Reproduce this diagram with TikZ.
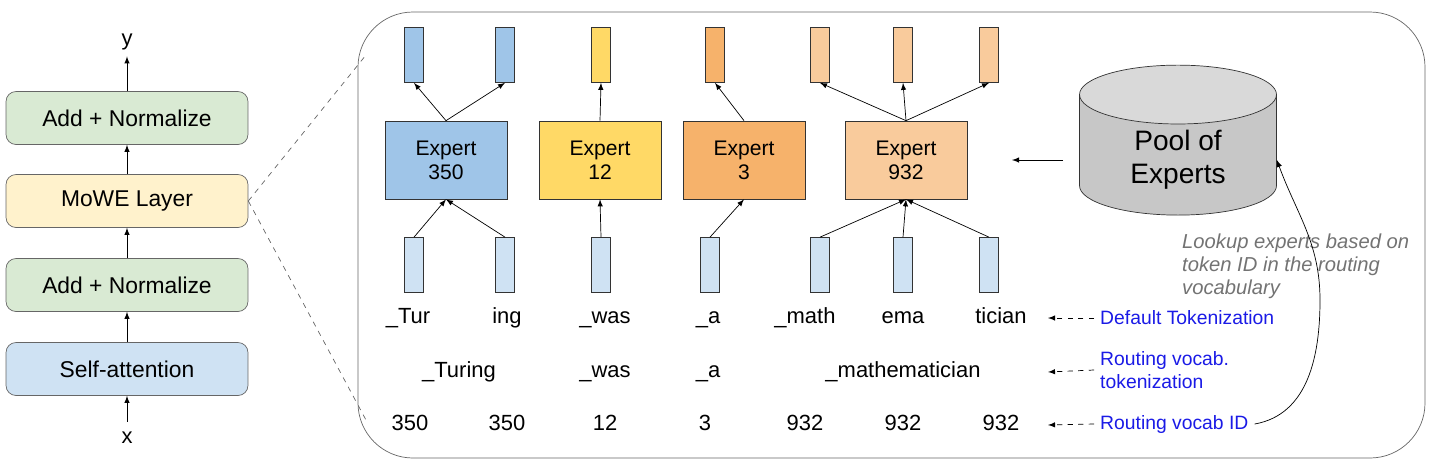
\documentclass[tikz,border=0pt]{standalone}
\usepackage{fontspec}
\setmainfont{Liberation Sans}
\usetikzlibrary{shapes.geometric,positioning}
\definecolor{cBlue}{HTML}{9FC5E8}
\definecolor{cLBlue}{HTML}{CFE2F3}
\definecolor{cYel}{HTML}{FFD966}
\definecolor{cOra}{HTML}{F6B26B}
\definecolor{cLOra}{HTML}{F9CB9C}
\definecolor{cGreen}{HTML}{D9EAD3}
\definecolor{cCream}{HTML}{FFF2CC}
\definecolor{cLink}{HTML}{1A1AE6}
\tikzset{
  layer/.style = {draw=black!60, rounded corners=0.2cm, minimum width=4.84cm, minimum height=1.06cm, font=\fontsize{13}{15}\selectfont},
  expert/.style = {draw=black!80, fill=#1, minimum width=2.44cm, minimum height=1.56cm, align=center, font=\fontsize{12}{13.5}\selectfont},
  vec/.style = {draw=black!80, fill=#1, minimum width=0.38cm, minimum height=1.1cm, inner sep=0},
  tok/.style = {font=\fontsize{12.5}{14}\selectfont, text height=1.7ex, text depth=0.5ex},
  note/.style = {font=\fontsize{11}{13}\selectfont, text=cLink, align=left, anchor=west},
  arr/.style = {-{latex}, black}
}
\begin{document}
\begin{tikzpicture}[x=0.02cm, y=-0.02cm]
\useasboundingbox (0,0) rectangle (1436,471);

% left stack
\node[layer, fill=cLBlue] (sa) at (127,369) {Self-attention};
\node[layer, fill=cGreen] (an1) at (127,285) {Add + Normalize};
\node[layer, fill=cCream] (mowe) at (127,201) {MoWE Layer};
\node[layer, fill=cGreen] (an2) at (127,118) {Add + Normalize};
\node[tok] (x) at (127,438) {x};
\node[tok] (y) at (127,40) {y};
\draw[arr] (x) -- (sa);
\draw[arr] (sa) -- (an1);
\draw[arr] (an1) -- (mowe);
\draw[arr] (mowe) -- (an2);
\draw[arr] (an2) -- (y);

% zoomed panel
\draw[black!60, rounded corners=1.1cm] (358,12) rectangle (1425,458);
\coordinate (pt) at (366,55);
\coordinate (pb) at (366,420);
\draw[dashed, black!60] (mowe.east) -- (pt);
\draw[dashed, black!60] (mowe.east) -- (pb);

% experts
\node[expert=cBlue] (e350) at (446,160) {Expert\\350};
\node[expert=cYel] (e12) at (600,160) {Expert\\12};
\node[expert=cOra] (e3) at (744,160) {Expert\\3};
\node[expert=cLOra] (e932) at (906,160) {Expert\\932};

% output vectors
\node[vec=cBlue] (o1) at (414,55) {};
\node[vec=cBlue] (o2) at (505,55) {};
\node[vec=cYel] (o3) at (601,55) {};
\node[vec=cOra] (o4) at (715,55) {};
\node[vec=cLOra] (o5) at (820,55) {};
\node[vec=cLOra] (o6) at (903,55) {};
\node[vec=cLOra] (o7) at (989,55) {};

% input vectors
\foreach \n/\x in {i1/414,i2/505,i3/601,i4/710,i5/820,i6/903,i7/989}
  \node[vec=cLBlue] (\n) at (\x,265) {};

\draw[arr] (e350.north) -- (o1.south);
\draw[arr] (e350.north) -- (o2.south);
\draw[arr] (e12.north) -- (o3.south);
\draw[arr] (e3.north) -- (o4.south);
\draw[arr] (e932.north) -- (o5.south);
\draw[arr] (e932.north) -- (o6.south);
\draw[arr] (e932.north) -- (o7.south);
\draw[arr] (i1.north) -- (e350.south);
\draw[arr] (i2.north) -- (e350.south);
\draw[arr] (i3.north) -- (e12.south);
\draw[arr] (i4.north) -- (e3.south);
\draw[arr] (i5.north) -- (e932.south);
\draw[arr] (i6.north) -- (e932.south);
\draw[arr] (i7.north) -- (e932.south);

% token rows
\foreach \t/\x in {\_Tur/408,ing/507,\_was/605,\_a/708,\_math/805,ema/903,tician/1001}
  \node[tok] at (\x,318) {\t};
\foreach \t/\x in {\_Turing/459,\_was/605,\_a/708,\_mathematician/903}
  \node[tok] at (\x,372) {\t};
\foreach \t/\x in {350/410,350/507,12/605,3/705,932/805,932/903,932/1001}
  \node[tok] at (\x,425) {\t};
\coordinate (r1) at (1048,318);
\coordinate (r2) at (1048,372);
\coordinate (r3) at (1048,425);

% notes
\node[note] (n1) at (1094,318) {Default Tokenization};
\node[note] (n2) at (1094,370) {Routing vocab.\\tokenization};
\node[note] (n3) at (1094,424) {Routing vocab ID};
\draw[arr, dashed] (n1.west) -- (r1);
\draw[arr, dashed] (n2.west) -- (r2);
\draw[arr, dashed] (n3.west) -- (r3);

% pool of experts
\node[cylinder, shape border rotate=90, draw=black!80, cylinder uses custom fill, cylinder body fill=black!22, cylinder end fill=black!15, minimum width=3.94cm, minimum height=3cm, aspect=0.55, align=center, font=\fontsize{16}{19}\selectfont] (pool) at (1178,160) {Pool of\\Experts};
\coordinate (pl) at (1012,160);
\draw[arr] (1063,160) -- (pl);
\node[font=\itshape\fontsize{11.5}{13}\selectfont, text=black!55, align=left, anchor=north west] (look) at (1176,228) {Lookup experts based on\\token ID in the routing\\vocabulary};
\draw[arr] (n3.east) to[out=10, in=-90] (1320,300) to[out=90, in=-70] (pool.east);
\end{tikzpicture}
\end{document}
